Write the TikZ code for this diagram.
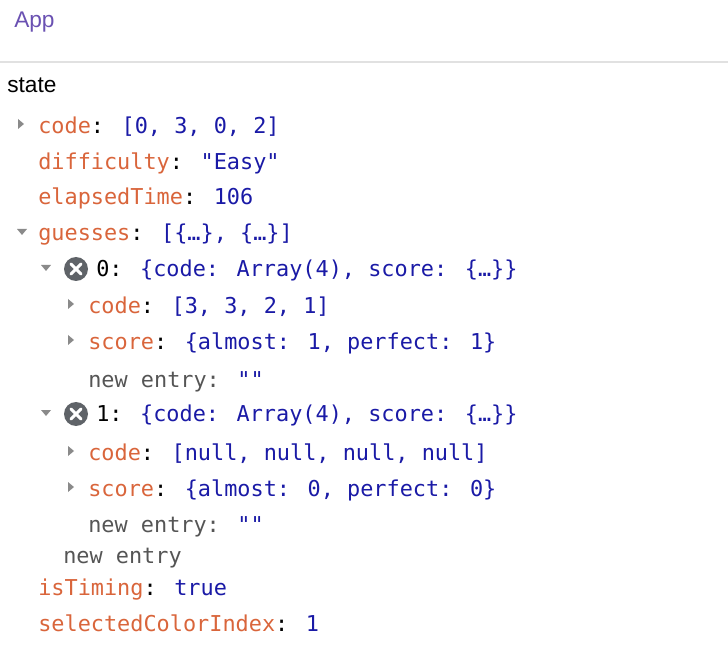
\documentclass[tikz,border=0pt]{standalone}
\usepackage{fontspec}
\setmainfont{Liberation Sans}
\newfontfamily\monof{DejaVu Sans Mono}
\definecolor{keyc}{HTML}{D9653B}
\definecolor{valc}{HTML}{1A1AA6}
\definecolor{appc}{HTML}{6A51B2}
\definecolor{grayc}{HTML}{555555}
\definecolor{tric}{HTML}{8A8A8A}
\definecolor{xc}{HTML}{5F6368}
\begin{document}
\begin{tikzpicture}[x=0.75pt,y=-0.75pt,
  row/.style={anchor=mid west,inner sep=0pt,yshift=-3pt,font=\monof\fontsize{16.4}{18}\selectfont},
  sans/.style={anchor=mid west,inner sep=0pt,yshift=-3pt,font=\fontsize{17}{18}\selectfont},
  tri/.style={fill=tric,draw=none}]
\useasboundingbox (0,0) rectangle (728,648);
\draw[draw={rgb,255:red,225;green,225;blue,225},line width=1.5pt] (0,62) -- (728,62);
\newcommand\kv[2]{{\color{keyc}#1}\color{black}: \color{valc}#2}
\node[sans,text=appc] (app) at (14,20) {App};
\node[sans] (state) at (7,85) {state};
\node[row] (r1) at (38,126) {\kv{code}{[0, 3, 0, 2]}};
\node[row] (r2) at (38,162) {\kv{difficulty}{"Easy"}};
\node[row] (r3) at (38,197) {\kv{elapsedTime}{106}};
\node[row] (r4) at (38,233) {\kv{guesses}{[\{…\}, \{…\}]}};
\node[row] (r5) at (96,269) {\color{black}0: \color{valc}\{code: Array(4), score: \{…\}\}};
\node[row] (r6) at (88,306) {\kv{code}{[3, 3, 2, 1]}};
\node[row] (r7) at (88,342) {\kv{score}{\{almost: 1, perfect: 1\}}};
\node[row,text=grayc] (r8) at (88,380) {new entry: \color{valc}""};
\node[row] (r9) at (96,414) {\color{black}1: \color{valc}\{code: Array(4), score: \{…\}\}};
\node[row] (r10) at (88,453) {\kv{code}{[null, null, null, null]}};
\node[row] (r11) at (88,489) {\kv{score}{\{almost: 0, perfect: 0\}}};
\node[row,text=grayc] (r12) at (88,525) {new entry: \color{valc}""};
\node[row,text=grayc] (r13) at (63,556) {new entry};
\node[row] (r14) at (38,588) {\kv{isTiming}{true}};
\node[row] (r15) at (38,624) {\kv{selectedColorIndex}{1}};
% triangles
\foreach \x/\y in {20/124,70/304,70/340,70/451,70/487}
  \fill[tri] (\x-2,\y-5) -- (\x+4,\y) -- (\x-2,\y+5) -- cycle;
\foreach \x/\y in {22/232,46/268,46/413}
  \fill[tri] (\x-5,\y-3) -- (\x+5,\y-3) -- (\x,\y+3) -- cycle;
% x icons
\foreach \y in {269,414}{
  \fill[xc] (76,\y) circle[radius=12];
  \draw[white,line width=2.2pt,line cap=round] (71,\y-5) -- (81,\y+5) (71,\y+5) -- (81,\y-5);}
\end{tikzpicture}
\end{document}
